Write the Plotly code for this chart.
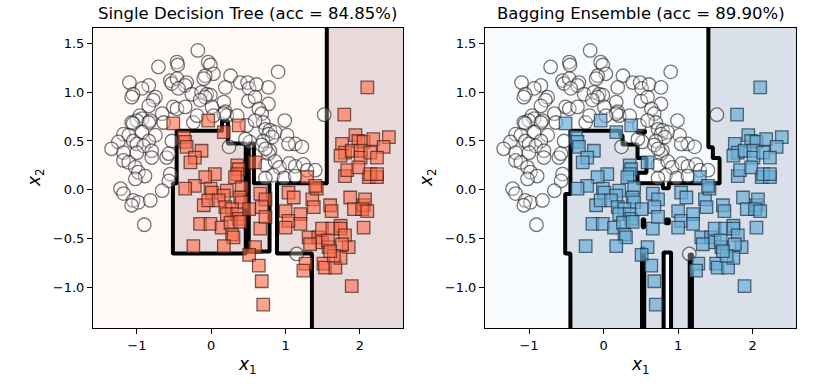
import numpy as np
import plotly.graph_objects as go

# ---- data (x1, x2) ----
class0_pts = [
    (-0.18, 1.43), (-0.71, 1.26), (-0.46, 1.31), (-0.45, 1.28), (-0.04, 1.31), (-0.01, 1.28), (0.03, 1.19),
    (-1.10, 1.10), (-0.84, 1.07), (-0.93, 1.04), (-1.05, 0.98), (-1.07, 0.95), (-0.55, 1.12), (-0.53, 1.09),
    (-0.46, 1.14), (-0.33, 1.10), (-0.35, 1.07), (-0.08, 1.17), (-0.10, 1.14), (0.26, 1.17), (0.39, 1.10),
    (0.49, 1.10), (0.51, 1.04), (0.19, 1.05), (-0.44, 1.04), (-0.26, 0.98), (-0.13, 1.00), (-0.06, 0.98),
    (-0.01, 0.97), (-0.08, 0.95), (-0.75, 0.95), (-0.78, 0.92), (-0.84, 0.86), (-0.51, 0.85), (-0.46, 0.83),
    (-0.35, 0.85), (-0.15, 0.92), (0.01, 0.85), (0.17, 0.90), (0.19, 0.80), (0.21, 0.76), (0.17, 0.78),
    (0.35, 0.76), (0.50, 0.91), (-0.96, 0.76), (-0.93, 0.73), (-1.00, 0.71), (-0.66, 0.78), (-0.82, 0.71),
    (-0.84, 0.69), (-1.07, 0.69), (-1.05, 0.68), (-0.64, 0.69), (-0.24, 0.69), (-0.19, 0.76), (0.03, 0.76),
    (-1.18, 0.57), (-1.11, 0.56), (-0.93, 0.59), (-0.75, 0.56), (-1.25, 0.49), (-1.34, 0.42), (-1.05, 0.50),
    (-1.00, 0.47), (-0.84, 0.50), (-0.91, 0.45), (-0.53, 0.50), (-1.18, 0.38), (-1.18, 0.30), (-1.11, 0.28),
    (-1.00, 0.38), (-0.80, 0.40), (-0.80, 0.33), (-0.60, 0.33), (-1.02, 0.23), (-0.98, 0.18), (-0.89, 0.14),
    (-0.55, 0.16), (0.24, 0.44),
    (0.90, 1.21), (0.61, 1.08), (0.77, 1.05), (0.59, 0.95), (0.77, 0.88), (0.64, 0.83), (0.68, 0.78),
    (0.99, 0.71), (1.52, 0.77), (0.48, 0.66), (0.70, 0.69), (0.73, 0.62), (0.79, 0.61), (0.77, 0.57),
    (0.86, 0.59), (0.82, 0.54), (1.02, 0.56), (1.13, 0.47), (1.22, 0.44), (0.79, 0.40), (0.77, 0.37),
    (0.70, 0.50), (0.59, 0.71), (0.52, 0.49), (0.46, 0.52), (0.68, 0.46), (0.73, 0.42), (1.04, 0.47),
    (0.73, 0.25), (0.86, 0.29), (0.92, 0.23), (1.05, 0.27), (1.13, 0.24), (1.24, 0.26), (1.29, 0.20),
    (1.40, 0.20), (0.83, 0.15), (0.98, 0.12), (1.13, 0.14), (0.73, 0.12),
    (-0.57, 0.37), (-0.57, 0.09),
    (-1.22, 0.01), (-1.18, -0.04), (-1.02, 0.11), (-0.66, -0.01), (-1.05, -0.11), (-0.98, -0.13),
    (-1.07, -0.16), (-0.82, -0.11), (-0.90, -0.36), (1.15, -0.66),
]

class1_pts = [
    (-0.51, 0.68), (-0.04, 0.71), (0.37, 0.66), (0.17, 0.59), (-0.37, 0.54), (-0.35, 0.49), (-0.33, 0.44),
    (-0.13, 0.40), (-0.22, 0.33), (-0.28, 0.28), (0.35, 0.25), (0.37, 0.21), (0.35, 0.16), (0.32, 0.13),
    (0.05, 0.16), (-0.08, 0.13), (-0.22, 0.04), (-0.35, 0.01), (-0.01, 0.01), (0.01, -0.03), (0.21, -0.01),
    (0.17, -0.06), (0.41, 0.02), (0.39, -0.08), (0.41, -0.13), (-0.10, -0.16), (-0.04, -0.11), (0.10, -0.11),
    (0.19, -0.18), (0.28, -0.20), (0.21, -0.25), (0.35, -0.25), (0.37, -0.30), (-0.15, -0.35), (-0.01, -0.35),
    (0.14, -0.39), (0.26, -0.34), (0.28, -0.46), (0.30, -0.49), (-0.24, -0.58), (0.17, -0.58), (0.59, -0.59),
    (0.66, -0.04), (0.73, -0.10), (0.68, -0.18), (0.59, 0.28), (0.66, -0.40), (0.73, -0.28), (1.04, -0.03),
    (1.11, -0.08), (1.00, -0.22), (1.04, -0.32), (1.20, -0.25), (1.20, -0.35), (1.36, -0.10), (1.38, -0.18),
    (1.42, 0.01), (1.29, 0.13), (1.31, -0.49), (1.44, -0.49), (1.49, -0.54), (1.58, -0.59), (1.60, -0.16),
    (1.62, -0.22), (0.39, -0.33), (0.51, -0.67), (0.51, -0.20), (1.00, -0.39), (1.33, -0.56), (1.49, -0.40),
    (1.63, -0.40), (1.57, -0.52),
    (0.64, -0.78), (0.68, -0.94), (0.70, -1.18), (1.27, -0.76), (1.24, -0.83), (1.51, -0.76), (1.53, -0.80),
    (1.67, -0.80), (1.74, -0.37), (1.74, -0.40), (1.80, -0.47), (1.85, -0.59), (1.76, -0.56), (1.74, -0.70),
    (1.87, -0.08), (1.92, -0.20), (2.05, -0.16), (2.07, -0.10), (2.03, -0.20), (2.10, -0.22), (1.80, 0.14),
    (2.12, 0.13), (2.23, 0.13), (2.05, -0.39), (1.89, -0.99), (1.65, -0.68), (1.60, -0.63), (1.40, 0.04),
    (2.10, 1.05), (1.79, 0.77), (1.76, 0.47), (1.94, 0.56), (1.98, 0.50), (2.05, 0.49), (2.18, 0.52),
    (2.39, 0.54), (2.32, 0.44), (1.80, 0.38), (1.74, 0.35), (1.89, 0.40), (2.01, 0.40), (2.01, 0.33),
    (2.14, 0.38), (2.23, 0.33), (1.83, 0.20), (1.98, 0.23), (2.14, 0.16), (2.23, 0.16),
]

# decision regions: (x1_min, x1_max, x2_min, x2_max, predicted class), painted in order
tree_regions = [
    (-0.46, 0.15, 0.07, 0.61, 1),
    (0.15, 0.23, 0.07, 0.71, 1),
    (0.23, 0.47, 0.07, 0.48, 1),
    (-0.51, 0.47, -0.65, 0.07, 1),
    (0.51, 0.58, 0.07, 0.48, 1),
    (0.51, 0.79, -0.63, 0.07, 1),
    (0.89, 1.56, -0.65, 0.07, 1),
    (1.36, 1.56, -3.0, -0.65, 1),
    (1.56, 3.0, -3.0, 3.0, 1),
]
bag_regions = [
    (-0.44, 3.0, -3.0, 3.0, 1),
    (-0.51, -0.44, -0.65, -0.04, 1),
    (-3.0, 1.41, 0.61, 3.0, 0),
    (0.26, 0.46, 0.47, 0.61, 0),
    (0.23, 0.26, 0.56, 0.61, 0),
    (0.46, 1.41, 0.07, 0.61, 0),
    (1.41, 1.47, 0.07, 0.44, 0),
    (1.47, 1.56, 0.07, 0.33, 0),
    (0.46, 0.58, 0.18, 0.33, 1),
    (0.80, 0.88, 0.02, 0.07, 0),
    (0.46, 0.56, 0.59, 0.61, 1),
    (0.11, 0.13, 0.55, 0.57, 1),
    (0.52, 0.55, -3.0, -0.60, 0),
    (0.81, 0.91, -3.0, -0.64, 0),
    (1.16, 1.19, -3.0, -0.66, 0),
    (0.53, 0.55, -0.38, -0.30, 0),
    (0.84, 0.88, -0.34, -0.30, 0),
]

titles = ["Single Decision Tree (acc = 84.85%)", "Bagging Ensemble (acc = 89.90%)"]
x_ticks = [-1, 0, 1, 2]
y_ticks = [-1.0, -0.5, 0.0, 0.5, 1.0, 1.5]
x_range = [-1.59, 2.58]
y_range = [-1.42, 1.66]

panels = [
    dict(regions=tree_regions, bg=["#fff9f7", "#e8d9db"], fill="rgba(251,106,74,0.6)",
         edge="rgba(70,30,20,0.7)"),
    dict(regions=bag_regions, bg=["#f8fbfe", "#dae0e9"], fill="rgba(107,174,214,0.7)",
         edge="rgba(30,50,70,0.7)"),
]

gx = np.round(np.arange(-1.70, 2.70, 0.01), 3)
gy = np.round(np.arange(-1.50, 1.75, 0.01), 3)
XX, YY = np.meshgrid(gx, gy)


def paint(regions):
    z = np.zeros(XX.shape, dtype=int)
    for x0, x1, y0, y1, lab in regions:
        z[(XX >= x0) & (XX < x1) & (YY >= y0) & (YY < y1)] = lab
    return z


c0x = [p[0] for p in class0_pts]
c0y = [p[1] for p in class0_pts]
c1x = [p[0] for p in class1_pts]
c1y = [p[1] for p in class1_pts]

W, H = 813, 387
fig = go.Figure()
font = "DejaVu Sans"
xdom = [[93 / W, 403 / W], [485 / W, 796 / W]]
ydom = [(H - 328) / H, (H - 28) / H]

for i, p in enumerate(panels):
    xa = "x" if i == 0 else "x2"
    ya = "y" if i == 0 else "y2"
    z = paint(p["regions"])
    fig.add_trace(go.Heatmap(x=gx, y=gy, z=z, zmin=0, zmax=1,
                             colorscale=[[0, p["bg"][0]], [1, p["bg"][1]]],
                             showscale=False, hoverinfo="skip", xaxis=xa, yaxis=ya))
    fig.add_trace(go.Contour(x=gx, y=gy, z=z, showscale=False, hoverinfo="skip",
                             contours=dict(start=0.5, end=0.5, size=1, coloring="none"),
                             line=dict(color="black", width=4, smoothing=0.6),
                             xaxis=xa, yaxis=ya))
    fig.add_trace(go.Scatter(x=c0x, y=c0y, mode="markers", xaxis=xa, yaxis=ya, hoverinfo="skip",
                             marker=dict(symbol="circle", size=13.5, color="rgba(255,255,255,0.3)",
                                         line=dict(color="rgba(30,30,30,0.6)", width=1.3))))
    fig.add_trace(go.Scatter(x=c1x, y=c1y, mode="markers", xaxis=xa, yaxis=ya, hoverinfo="skip",
                             marker=dict(symbol="square", size=12.5, color=p["fill"],
                                         line=dict(color=p["edge"], width=1.3))))

axis_common = dict(showline=True, mirror=True, linecolor="black", linewidth=1, ticks="outside",
                   ticklen=5, tickwidth=1, tickcolor="black", showgrid=False, zeroline=False,
                   tickfont=dict(family=font, size=13, color="black"))

fig.update_layout(
    width=W, height=H, margin=dict(l=0, r=0, t=0, b=0), showlegend=False,
    paper_bgcolor="white", plot_bgcolor="white", hovermode=False,
    xaxis=dict(domain=xdom[0], range=x_range, tickvals=x_ticks, anchor="y", **axis_common),
    yaxis=dict(domain=ydom, range=y_range, tickvals=y_ticks, tickformat=".1f", anchor="x", **axis_common),
    xaxis2=dict(domain=xdom[1], range=x_range, tickvals=x_ticks, anchor="y2", **axis_common),
    yaxis2=dict(domain=ydom, range=y_range, tickvals=y_ticks, tickformat=".1f", anchor="x2", **axis_common),
)

ann = []
for i in range(2):
    cx = (xdom[i][0] + xdom[i][1]) / 2
    ann.append(dict(text=titles[i], x=cx, y=1 - 14 / H, xref="paper", yref="paper",
                    showarrow=False, font=dict(family=font, size=16.5, color="black"),
                    xanchor="center", yanchor="middle"))
    ann.append(dict(text="<i>x</i><sub>1</sub>", x=cx, y=1 - 365 / H, xref="paper", yref="paper",
                    showarrow=False, font=dict(family=font, size=17, color="black"),
                    xanchor="center", yanchor="middle"))
    ann.append(dict(text="<i>x</i><sub>2</sub>", x=(35 if i == 0 else 427) / W, y=(ydom[0] + ydom[1]) / 2,
                    xref="paper", yref="paper", textangle=-90,
                    showarrow=False, font=dict(family=font, size=17, color="black"),
                    xanchor="center", yanchor="middle"))
fig.update_layout(annotations=ann)

fig.write_html("out.html", config={"displayModeBar": False},
               post_script="document.body.style.margin='0';")
